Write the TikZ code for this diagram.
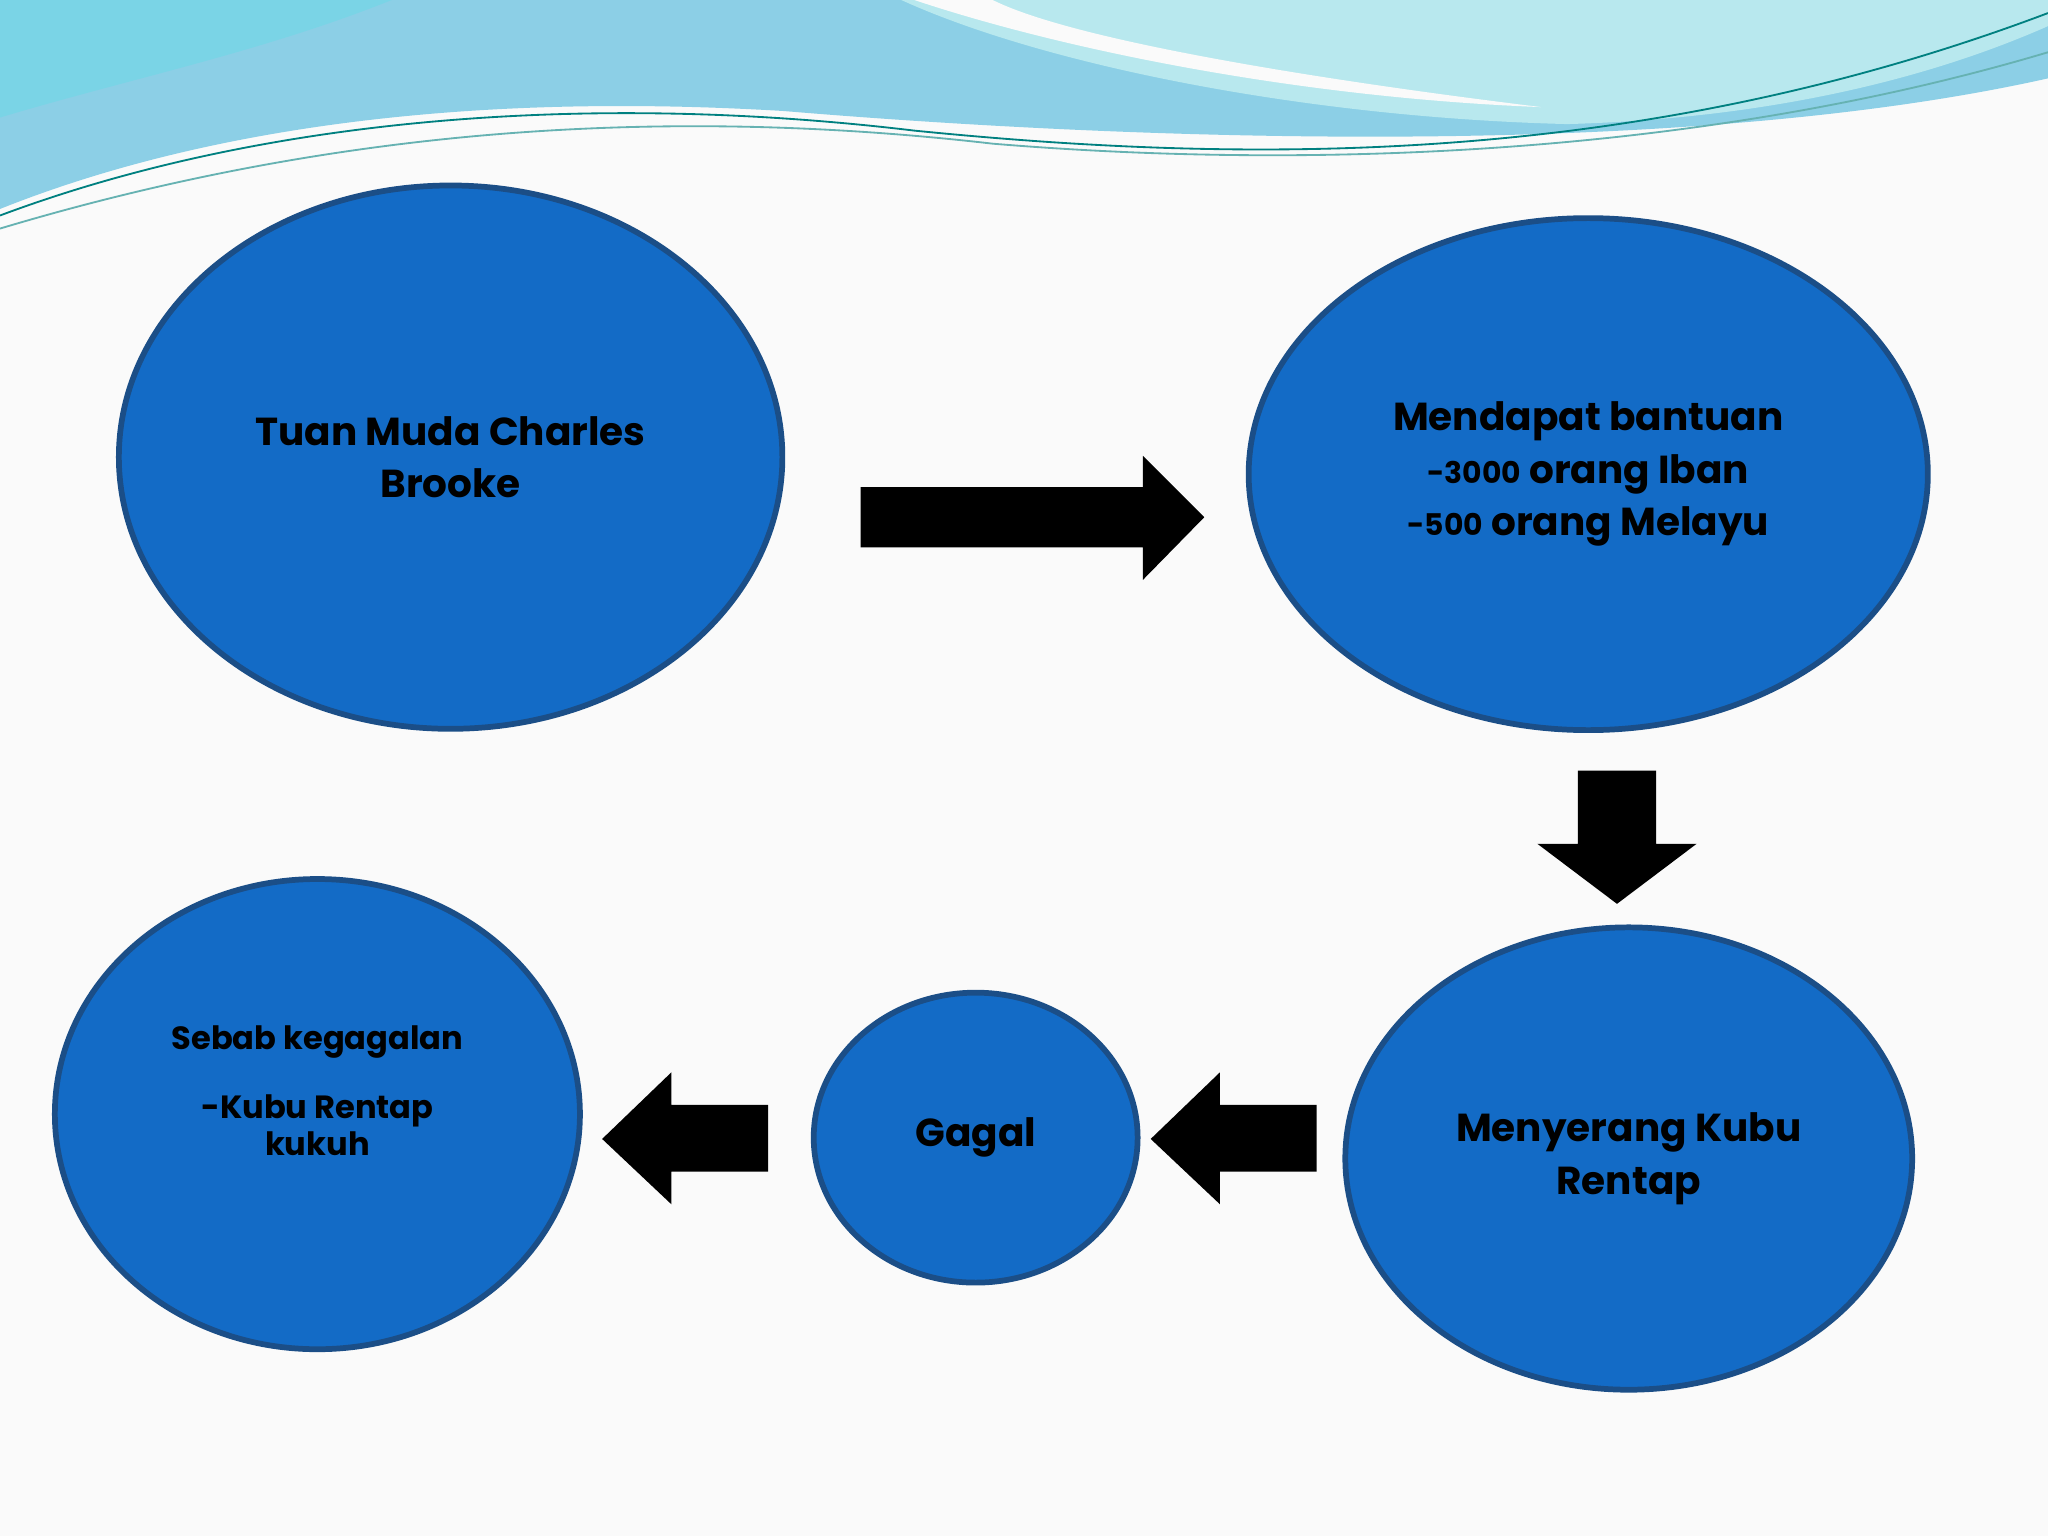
\documentclass[tikz,border=0pt]{standalone}
\usepackage{fontspec}
\setmainfont{Poppins}
\usetikzlibrary{shapes.geometric}
\definecolor{blob}{HTML}{136BC6}
\definecolor{rim}{HTML}{1B4E87}
\definecolor{wave1}{HTML}{8CCFE6}
\definecolor{wave2}{HTML}{6FD8E6}
\definecolor{wave3}{HTML}{B8E8EE}
\tikzset{
  blobnode/.style={ellipse,fill=blob,draw=rim,line width=2.5pt,inner sep=0pt},
  lbl/.style={font=\bfseries\fontsize{17}{23}\selectfont,align=center,text=black},
  arr/.style={fill=black,draw=none}
}
\begin{document}
\begin{tikzpicture}[x=0.02cm,y=-0.02cm]
\useasboundingbox (0,0) rectangle (1568,1176);
\fill[white!96!gray] (0,0) rectangle (1568,1176);
% top waves
\fill[wave1] (0,0) -- (1568,0) -- (1568,60) .. controls (1300,120) and (900,110) .. (600,85) .. controls (350,70) and (150,100) .. (0,160) -- cycle;
\fill[wave2,opacity=0.6] (0,90) .. controls (100,60) and (200,40) .. (300,0) -- (0,0) -- cycle;
\fill[wave3] (690,0) .. controls (800,50) and (1000,90) .. (1200,95) .. controls (1380,90) and (1500,50) .. (1568,20) -- (1568,0) -- cycle;
\fill[white!96!gray] (700,0) .. controls (820,40) and (1000,75) .. (1180,82) .. controls (1000,60) and (820,30) .. (760,0) -- cycle;
\draw[teal,line width=0.8pt] (0,165) .. controls (200,90) and (450,70) .. (700,100) .. controls (950,125) and (1250,130) .. (1568,10);
\draw[teal!60,line width=0.8pt] (0,175) .. controls (250,100) and (500,80) .. (760,110) .. controls (1000,130) and (1300,120) .. (1568,40);

\node[blobnode,minimum width={508*0.02cm},minimum height={416*0.02cm}] (a) at (345,350) {};
\node[lbl] at (345,350) {Tuan Muda Charles\\Brooke};
\node[blobnode,minimum width={520*0.02cm},minimum height={392*0.02cm}] (b) at (1216,363) {};
\node[lbl] at (1216,363) {Mendapat bantuan\\{\fontsize{13}{23}\selectfont -3000} orang Iban\\{\fontsize{13}{23}\selectfont -500} orang Melayu};
\node[blobnode,minimum width={434*0.02cm},minimum height={354*0.02cm}] (c) at (1247,887) {};
\node[lbl] at (1247,887) {Menyerang Kubu\\Rentap};
\node[blobnode,minimum width={248*0.02cm},minimum height={222*0.02cm}] (d) at (747,871) {};
\node[lbl] at (747,871) {Gagal};
\node[blobnode,minimum width={402*0.02cm},minimum height={360*0.02cm}] (e) at (243,853) {};
\node[lbl,font=\bfseries\fontsize{14}{16}\selectfont] at (243,835) {Sebab kegagalan\\[14pt]-Kubu Rentap\\kukuh};

% arrows
\fill[arr] (659,373) -- (875,373) -- (875,349) -- (922,396) -- (875,444) -- (875,419) -- (659,419) -- cycle;
\fill[arr] (1208,590) -- (1268,590) -- (1268,646) -- (1299,646) -- (1238,692) -- (1177,646) -- (1208,646) -- cycle;
\fill[arr] (1008,846) -- (934,846) -- (934,821) -- (881,872) -- (934,922) -- (934,897) -- (1008,897) -- cycle;
\fill[arr] (588,846) -- (514,846) -- (514,821) -- (461,872) -- (514,922) -- (514,897) -- (588,897) -- cycle;
\end{tikzpicture}
\end{document}
